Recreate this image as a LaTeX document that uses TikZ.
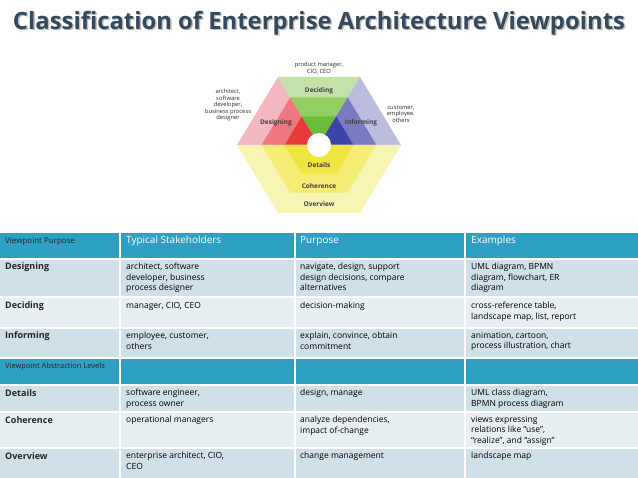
\documentclass[tikz,border=0pt]{standalone}
\usepackage{fontspec}
\setmainfont{Open Sans}
\usepackage{graphicx}
\definecolor{hdr}{HTML}{2EA0C2}
\definecolor{rowA}{HTML}{CFE0E8}
\definecolor{rowB}{HTML}{E8EFF3}
\definecolor{pk1}{HTML}{F4B8C0}\definecolor{pk2}{HTML}{EE7880}\definecolor{pk3}{HTML}{E83A3A}
\definecolor{gr1}{HTML}{C2E2AA}\definecolor{gr2}{HTML}{92CE62}\definecolor{gr3}{HTML}{6CBC3C}
\definecolor{bl1}{HTML}{BCBCDE}\definecolor{bl2}{HTML}{7A7AC2}\definecolor{bl3}{HTML}{3C44A8}
\definecolor{ye1}{HTML}{F8F4B4}\definecolor{ye2}{HTML}{F4EC74}\definecolor{ye3}{HTML}{F0E440}
\definecolor{ttl}{HTML}{34495C}
\begin{document}
\begin{tikzpicture}[x=1pt,y=-1pt,
  cell/.style={anchor=north west,inner sep=0pt,font=\fontsize{8.5}{10.5}\selectfont,align=left},
  cellb/.style={cell,font=\fontsize{9}{12}\selectfont\bfseries,text=black!85},
  hd/.style={anchor=north west,inner sep=0pt,text=white,font=\fontsize{10}{12}\selectfont},
  hex/.style={font=\fontsize{6.5}{7.5}\selectfont\bfseries,text=black!75,align=center,inner sep=0pt}]
\useasboundingbox (0,0) rectangle (638,478);
\fill[white] (0,0) rectangle (638,478);
% title
\node[anchor=center,text=black!25,font=\bfseries] (tsh) at (320.5,24.5) {\resizebox{612pt}{!}{Classification of Enterprise Architecture Viewpoints}};
\node[anchor=center,text=ttl,font=\bfseries] (title) at (319,23) {\resizebox{612pt}{!}{Classification of Enterprise Architecture Viewpoints}};
% hexagon
\begin{scope}[shift={(319,145)}]
\foreach \s/\p/\g/\b/\y in {1/pk1/gr1/bl1/ye1,0.7/pk2/gr2/bl2/ye2,0.42/pk3/gr3/bl3/ye3}{
  \fill[\p] (0,0) -- (-82*\s,0) -- (-41*\s,-68*\s) -- cycle;
  \fill[\g] (0,0) -- (-41*\s,-68*\s) -- (41*\s,-68*\s) -- cycle;
  \fill[\b] (0,0) -- (41*\s,-68*\s) -- (82*\s,0) -- cycle;
}
\fill[ye1] (-82,0) -- (-41,68) -- (41,68) -- (82,0) -- cycle;
\fill[ye2] (-57.4,0) -- (-28.7,47.6) -- (28.7,47.6) -- (57.4,0) -- cycle;
\fill[ye3] (-34.4,0) -- (-17.2,28.6) -- (17.2,28.6) -- (34.4,0) -- cycle;
\fill[white] (0,0) circle (12);
\end{scope}
\node[hex] (dec) at (319,91) {Deciding};
\node[hex] (des) at (276,123) {Designing};
\node[hex] (inf) at (361,123) {Informing};
\node[hex] (det) at (319,165) {Details};
\node[hex] (coh) at (319,186) {Coherence};
\node[hex] (ovr) at (319,204) {Overview};
\node[hex,font=\fontsize{5.8}{6.5}\selectfont,text=black!85] (s1) at (319,68) {product manager,\\CIO, CEO};
\node[hex,font=\fontsize{5.8}{6.5}\selectfont,text=black!85] (s2) at (228,105) {architect,\\software\\developer,\\business process\\designer};
\node[hex,font=\fontsize{5.8}{6.5}\selectfont,text=black!85] (s3) at (401,114) {customer,\\employee.\\others};
% table
\fill[hdr] (0,233) rectangle (638,259);
\fill[rowA] (0,259) rectangle (638,297);
\fill[rowB] (0,297) rectangle (638,328);
\fill[rowA] (0,328) rectangle (638,358);
\fill[hdr] (0,358) rectangle (638,385);
\fill[rowA] (0,385) rectangle (638,412);
\fill[rowB] (0,412) rectangle (638,448);
\fill[rowA] (0,448) rectangle (638,478);
\foreach \y in {259,297,328,358,385,412,448}{\draw[white,line width=1.5] (0,\y) -- (638,\y);}
\foreach \x in {120,295,465}{\draw[white,line width=1.5] (\x,233) -- (\x,478);}
\node[hd,text=black!85,font=\fontsize{8}{10}\selectfont] (h1) at (5,237) {Viewpoint Purpose};
\node[hd] (h2) at (126,236) {Typical Stakeholders};
\node[hd] (h3) at (300,236) {Purpose};
\node[hd] (h4) at (471,236) {Examples};
\node[hd,text=black!85,font=\fontsize{7.5}{9}\selectfont] (h5) at (5,363) {Viewpoint Abstraction Levels};
% rows
\node[cellb] (r1a) at (5,262) {Designing};
\node[cell] (r1b) at (126,263) {architect, software\\developer, business\\process designer};
\node[cell] (r1c) at (300,263) {navigate, design, support\\design decisions, compare\\alternatives};
\node[cell] (r1d) at (471,263) {UML diagram, BPMN\\diagram, flowchart, ER\\diagram};
\node[cellb] (r2a) at (5,301) {Deciding};
\node[cell] (r2b) at (126,302) {manager, CIO, CEO};
\node[cell] (r2c) at (300,302) {decision-making};
\node[cell] (r2d) at (471,302) {cross-reference table,\\landscape map, list, report};
\node[cellb] (r3a) at (5,331) {Informing};
\node[cell] (r3b) at (126,332) {employee, customer,\\others};
\node[cell] (r3c) at (300,332) {explain, convince, obtain\\commitment};
\node[cell] (r3d) at (471,332) {animation, cartoon,\\process illustration, chart};
\node[cellb] (r4a) at (5,389) {Details};
\node[cell] (r4b) at (126,389) {software engineer,\\process owner};
\node[cell] (r4c) at (300,389) {design, manage};
\node[cell] (r4d) at (471,389) {UML class diagram,\\BPMN process diagram};
\node[cellb] (r5a) at (5,416) {Coherence};
\node[cell] (r5b) at (126,416) {operational managers};
\node[cell] (r5c) at (300,416) {analyze dependencies,\\impact of-change};
\node[cell] (r5d) at (471,416) {views expressing\\relations like “use”,\\“realize”, and “assign”};
\node[cellb] (r6a) at (5,452) {Overview};
\node[cell] (r6b) at (126,452) {enterprise architect, CIO,\\CEO};
\node[cell] (r6c) at (300,452) {change management};
\node[cell] (r6d) at (471,452) {landscape map};
\end{tikzpicture}
\end{document}
